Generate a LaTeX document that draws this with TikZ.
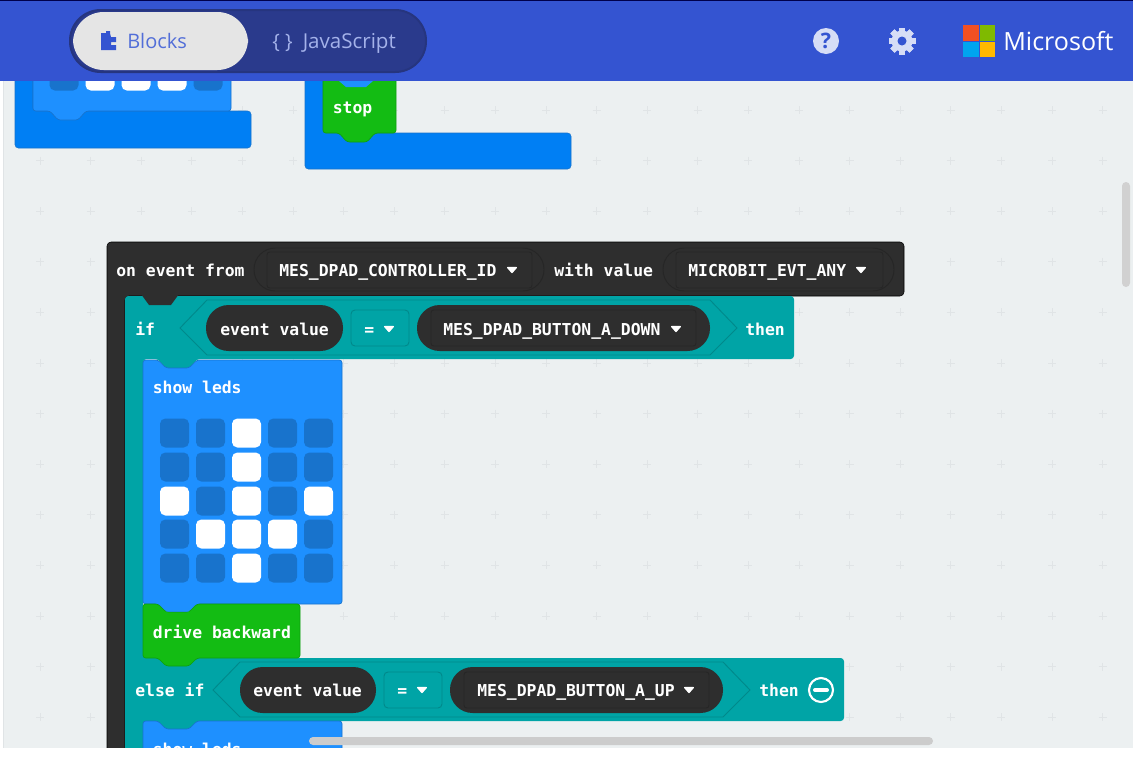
\documentclass[tikz,border=0pt]{standalone}
\usepackage{fontspec}
\setmainfont{Open Sans}
\newfontfamily\blockfont{DejaVu Sans Mono}
\usetikzlibrary{positioning}

\definecolor{barBlue}{HTML}{3454D1}
\definecolor{barNavy}{HTML}{2A3A8C}
\definecolor{barEdge}{HTML}{26357F}
\definecolor{canvasGrey}{HTML}{ECF0F1}
\definecolor{plusGrey}{HTML}{E0E4E6}
\definecolor{loopsBlue}{HTML}{007FF4}
\definecolor{ledsBlue}{HTML}{1E90FF}
\definecolor{ledOff}{HTML}{1873CC}
\definecolor{stopGreen}{HTML}{13BC13}
\definecolor{stopEdge}{HTML}{0F9F0F}
\definecolor{logicTeal}{HTML}{00A4A6}
\definecolor{logicEdge}{HTML}{00898B}
\definecolor{eventDark}{HTML}{2E2E2E}
\definecolor{eventEdge}{HTML}{262626}
\definecolor{msRed}{HTML}{F25022}
\definecolor{msGreen}{HTML}{7FBA00}
\definecolor{msBlue}{HTML}{00A4EF}
\definecolor{msYellow}{HTML}{FFB900}

\tikzset{
  blockText/.style={anchor=west,inner sep=0pt,text=white,text height=11pt,text depth=1.5pt,
    font=\blockfont\bfseries\fontsize{12.3}{14}\selectfont},
  uiText/.style={anchor=west,inner sep=0pt,text height=12pt,text depth=1pt,
    font=\fontsize{15}{18}\selectfont},
  ledsBlock/.style={fill=ledsBlue,draw=ledOff,line width=0.5pt,rounded corners=2pt},
  stopBlock/.style={fill=stopGreen,draw=stopEdge,line width=0.5pt,rounded corners=2pt},
  logicBlock/.style={fill=logicTeal,rounded corners=2.5pt},
  eventBlock/.style={fill=eventDark,rounded corners=3pt},
  loopsBlock/.style={fill=loopsBlue,draw=ledOff,line width=0.4pt,rounded corners=2.5pt},
}

\begin{document}
\begin{tikzpicture}[x=0.75pt,y=-0.75pt]
  \useasboundingbox (0,0) rectangle (1133,758);

  % help functions

        % One led of a show leds block
  \def\ledCell(#1,#2,#3){
    \fill[#3,rounded corners=4pt] (#1-14.5,#2-14.5) rectangle (#1+14.5,#2+14.5);}
        % Small white arrow of a dropdown
  \def\dropArrow(#1,#2){
    \fill[white,draw=white,line width=1.1pt,line join=round]
      (#1-4.2,#2-2.4) -- (#1+4.2,#2-2.4) -- (#1,#2+2.4) -- cycle;}
        % Dropdown inside a dark pill
  \def\valuePill(#1,#2,#3,#4){
    \fill[eventDark,rounded corners=17pt] (#1,#2) rectangle (#3,#4);
    \draw[eventEdge,line width=0.7pt,rounded corners=2pt] (#1+14,#2+5) rectangle (#3-14,#4-5);}
        % The = dropdown
  \def\equalBox(#1,#2,#3){
    \draw[logicEdge,line width=0.7pt,rounded corners=3pt] (#1,#2) rectangle (#3,#2+36);}
        % Hexagon slot of a condition
  \def\slotHex(#1,#2,#3,#4,#5){
    \draw[logicEdge,line width=0.7pt] (#1,#3) -- (#2,#3-28) -- (#4,#3-28) -- (#5,#3)
      -- (#4,#3+27) -- (#2,#3+27) -- cycle;}

  % canvas
  \fill[canvasGrey] (0,0) rectangle (1133,758);
  \foreach \i in {0,...,21}{
    \foreach \j in {0,...,12}{
      \pgfmathsetmacro\px{40+\i*50.6}
      \pgfmathsetmacro\py{110+\j*50.6}
      \draw[plusGrey,line width=0.5pt] (\px-4,\py) -- (\px+4,\py) (\px,\py-4) -- (\px,\py+4);
  }}

  % BLOCKS ABOVE
    \draw[loopsBlock] (15,70) -- (33,70) -- (33,111) -- (251,111) -- (251,148) -- (15,148) -- cycle;
    \draw[ledsBlock] (33,60) -- (231,60) -- (231,111) -- (86,111) -- (78,120) -- (58,120) -- (50,111) -- (33,111) -- cycle;
    \foreach \lx/\lc in {64/ledOff,100/white,136/white,172/white,208/ledOff}{
      \ledCell(\lx,76,\lc)
    }
    \draw[loopsBlock] (305,70) -- (323,70) -- (323,133) -- (571,133) -- (571,169) -- (305,169) -- cycle;
    \draw[stopBlock] (323,70) -- (396,70) -- (396,133) -- (375,133) -- (367,142) -- (347,142) -- (339,133) -- (323,133) -- cycle;
    \fill[ledsBlue] (339,75) -- (373,75) -- (373,81) -- (366,87) -- (346,87) -- (339,81) -- cycle;
    \node[blockText] (stopText) at (332.5,107) {stop};

  % EVENT BLOCK
    \draw[eventBlock] (107,242) -- (904,242) -- (904,296) -- (125,296) -- (125,752) -- (107,752) -- cycle;
    \node[blockText] (eventFrom) at (116,270) {on event from};
    \draw[eventEdge,line width=0.7pt,rounded corners=16pt] (254,248) rectangle (544,291);
    \draw[eventEdge,line width=0.7pt,rounded corners=2pt] (267,252) rectangle (532,288);
    \node[blockText] (controllerId) at (279,270) {MES\_DPAD\_CONTROLLER\_ID};
    \dropArrow(512,270)
    \node[blockText] (withValue) at (554,270) {with value};
    \draw[eventEdge,line width=0.7pt,rounded corners=16pt] (663,248) rectangle (894,291);
    \draw[eventEdge,line width=0.7pt,rounded corners=2pt] (676,252) rectangle (883,288);
    \node[blockText] (evtAny) at (688,270) {MICROBIT\_EVT\_ANY};
    \dropArrow(861,270)

  % LOGIC BLOCK
    \fill[logicBlock] (125,296) -- (794,296) -- (794,359) -- (197,359) -- (189,369) -- (166,369) -- (158,359) -- (143,359) -- (143,658) -- (844,658) -- (844,721) -- (197,721) -- (189,730) -- (166,730) -- (158,721) -- (143,721) -- (143,752) -- (125,752) -- cycle;
    \fill[eventDark] (141,294) -- (179,294) -- (171,305) -- (149,305) -- cycle;

    % if
    \node[blockText] (ifText) at (135,329) {if};
    \slotHex(180,207,328,710,737)
    \fill[eventDark,rounded corners=17pt] (206,305) rectangle (343,351);
    \node[blockText] (eventValueA) at (220,329) {event value};
    \equalBox(351,310,409)
    \node[blockText] (equalA) at (364,329) {=};
    \dropArrow(389,329)
    \valuePill(417,305,710,351)
    \node[blockText] (buttonDown) at (443,329) {MES\_DPAD\_BUTTON\_A\_DOWN};
    \dropArrow(676,329)
    \node[blockText] (thenA) at (745,329) {then};

    % else if
    \node[blockText] (elseIfText) at (135,690) {else if};
    \slotHex(213,240,690,723,750)
    \fill[eventDark,rounded corners=17pt] (240,667) rectangle (376,713);
    \node[blockText] (eventValueB) at (253,690) {event value};
    \equalBox(384,672,442)
    \node[blockText] (equalB) at (397,690) {=};
    \dropArrow(422,690)
    \valuePill(450,667,723,713)
    \node[blockText] (buttonUp) at (477,690) {MES\_DPAD\_BUTTON\_A\_UP};
    \dropArrow(689,690)
    \node[blockText] (thenB) at (759,690) {then};
    \draw[white,line width=1.6pt] (821,690) circle [radius=12];
    \draw[white,line width=3pt,line cap=round] (815,690) -- (827,690);

  % SHOW LEDS
    \draw[ledsBlock] (143,360) -- (158,360) -- (166,368) -- (189,368) -- (197,360) -- (342,360) -- (342,604) -- (197,604) -- (189,612) -- (166,612) -- (158,604) -- (143,604) -- cycle;
    \node[blockText] (showLedsA) at (152.5,387) {show leds};
    \foreach \row/\ly/\pat in {0/433/{0,0,1,0,0},1/467/{0,0,1,0,0},2/501/{1,0,1,0,1},3/534/{0,1,1,1,0},4/568/{0,0,1,0,0}}{
      \foreach \on [count=\col from 0] in \pat {
        \pgfmathsetmacro\lx{174.5+\col*36}
        \ifnum\on=1 \ledCell(\lx,\ly,white) \else \ledCell(\lx,\ly,ledOff) \fi
      }
    }

  % DRIVE BACKWARD
    \draw[stopBlock] (143,604) -- (158,604) -- (166,612) -- (189,612) -- (197,604) -- (300,604) -- (300,658) -- (197,658) -- (189,666) -- (166,666) -- (158,658) -- (143,658) -- cycle;
    \fill[ledsBlue] (159,603) -- (196,603) -- (188.5,611.5) -- (166.5,611.5) -- cycle;
    \node[blockText] (driveBack) at (152.5,632) {drive backward};

  % SECOND SHOW LEDS
    \draw[ledsBlock] (143,721) -- (158,721) -- (166,729) -- (189,729) -- (197,721) -- (342,721) -- (342,752) -- (143,752) -- cycle;
    \node[blockText] (showLedsB) at (152.5,749) {show leds};

  % window edges
    \fill[white] (0,81) rectangle (3,748);
    \draw[plusGrey,line width=0.8pt] (3.5,81) -- (3.5,748);
    \fill[white] (0,748) rectangle (1133,758);
    \fill[black!20,rounded corners=3pt] (309,737) rectangle (933,745);
    \fill[black!18,rounded corners=3pt] (1122,182) rectangle (1130,287);

  % TOP BAR
    \fill[barBlue] (0,0) rectangle (1133,81);
    \fill[black!70!blue] (0,0) rectangle (1133,1);
    \draw[barEdge,fill=barNavy,line width=1.5pt,rounded corners=23pt] (70,10) rectangle (426,72);
    \fill[black!10,rounded corners=23pt] (73,12) rectangle (248,70);
    \fill[barBlue] (101,33) -- (106,33) -- (106,31) -- (110,31) -- (110,33) -- (111,37) -- (116,37) -- (116,42) -- (111,42) -- (111,45) -- (116,45) -- (116,50) -- (101,50) -- cycle;
    \node[uiText,text=barBlue!85!white] (blocksTab) at (127,41) {Blocks};
    \node[uiText,text=barBlue!45!white] (jsTab) at (272,41) {\{\hspace{4pt}\}\hspace{7.5pt}{\fontsize{15.4}{18}\selectfont JavaScript}};
    \fill[barBlue!20!white] (826,41) circle [radius=13];
    \node[inner sep=0pt,text=barBlue,font=\bfseries\fontsize{16}{18}\selectfont] (helpMark) at (826,41) {?};
    \foreach \a in {0,45,...,315}{
      \fill[barBlue!20!white,rotate around={\a:(902,41)}] (899,27.5) rectangle (905,54.5);
    }
    \fill[barBlue!20!white] (902,41) circle [radius=10.5];
    \fill[barBlue] (902,41) circle [radius=4.5];
    \fill[msRed] (963,25) rectangle (979,41);
    \fill[msGreen] (980,25) rectangle (995,41);
    \fill[msBlue] (963,42) rectangle (979,57);
    \fill[msYellow] (980,42) rectangle (995,57);
    \node[anchor=west,inner sep=0pt,text=white,font=\fontsize{18.8}{22}\selectfont] (msText) at (1003,41) {Microsoft};
\end{tikzpicture}
\end{document}
